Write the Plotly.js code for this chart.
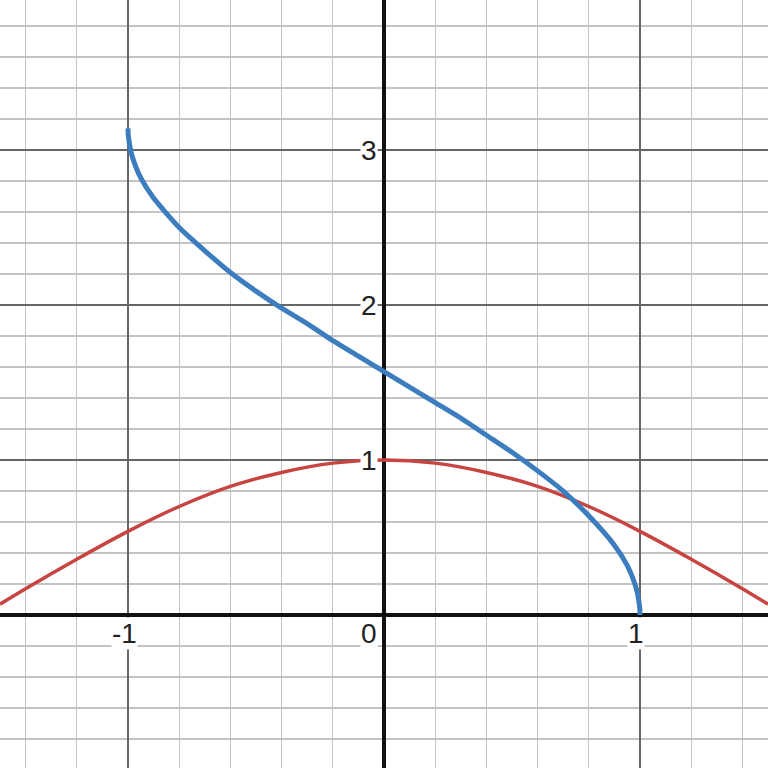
<!DOCTYPE html>
<html>
<head>
<meta charset="utf-8">
<script src="https://cdn.plot.ly/plotly-3.0.1.min.js"></script>
<style>
  html, body { margin: 0; padding: 0; background: #fff; }
  #plot { width: 768px; height: 768px; }
</style>
</head>
<body>
<div id="plot"></div>
<script>
    // blue curve, values (arccos-like)
    const blueX = [-1, -0.999, -0.99, -0.98, -0.95, -0.9, -0.8, -0.7, -0.6, -0.5, -0.4, -0.3, -0.2, -0.1,
        0, 0.1, 0.2, 0.3, 0.4, 0.5, 0.6, 0.7, 0.8, 0.9, 0.95, 0.98, 0.99, 0.999, 1]
    const blueY = [3.14, 3.097, 3.0, 2.94, 2.82, 2.69, 2.50, 2.35, 2.21, 2.09, 1.98, 1.88, 1.77, 1.67,
        1.57, 1.47, 1.37, 1.27, 1.16, 1.05, 0.93, 0.80, 0.64, 0.45, 0.32, 0.20, 0.14, 0.045, 0]

    // red curve, values (cos-like)
    const redX = [-1.5, -1.4, -1.2, -1.0, -0.8, -0.6, -0.4, -0.2, 0, 0.2, 0.4, 0.6, 0.8, 1.0, 1.2, 1.4, 1.5]
    const redY = [0.07, 0.17, 0.36, 0.54, 0.70, 0.83, 0.92, 0.98, 1.0, 0.98, 0.92, 0.83, 0.70, 0.54, 0.36, 0.17, 0.07]

    // tick labels drawn next to the axes
    const xTickVals = [-1, 0, 1]
    const xTickText = ['-1', '0', '1']
    const yTickVals = [1, 2, 3]
    const yTickText = ['1', '2', '3']

    const blue = '#3c7dbf'
    const red = '#c74440'

    const data = [
        {x: redX, y: redY, type: 'scatter', mode: 'lines',
            line: {color: red, width: 3.5, shape: 'spline'}},
        {x: blueX, y: blueY, type: 'scatter', mode: 'lines',
            line: {color: blue, width: 5, shape: 'spline', smoothing: 0.6}}
    ]

    const labelFont = {family: 'Liberation Sans', size: 28, color: '#222'}
    let annotations = []
    xTickVals.forEach((v, i) => {
        annotations.push({
            x: v, y: 0, xref: 'x', yref: 'y', text: xTickText[i], showarrow: false,
            xanchor: v === 0 ? 'right' : 'center', yanchor: 'top',
            xshift: v === 0 ? -6 : -4, yshift: -2, borderpad: 0,
            font: labelFont, bgcolor: '#fff'
        })
    })
    yTickVals.forEach((v, i) => {
        annotations.push({
            x: 0, y: v, xref: 'x', yref: 'y', text: yTickText[i], showarrow: false,
            xanchor: 'right', yanchor: 'middle', xshift: -6, borderpad: 0,
            font: labelFont, bgcolor: '#fff'
        })
    })

    const axisCommon = {
        showticklabels: false,
        ticks: '',
        showgrid: true,
        gridcolor: '#666666',
        gridwidth: 1.3,
        dtick: 1,
        tick0: 0,
        zeroline: true,
        zerolinecolor: '#111',
        zerolinewidth: 3.5,
        showline: false,
        fixedrange: true,
        minor: {dtick: 0.2, tick0: 0, showgrid: true, gridcolor: '#c4c4c4', gridwidth: 1.3}
    }

    const layout = {
        width: 768,
        height: 768,
        hovermode: false,
        showlegend: false,
        margin: {t: 0, b: 0, l: 0, r: 0},
        paper_bgcolor: '#fff',
        plot_bgcolor: '#fff',
        xaxis: Object.assign({}, axisCommon, {range: [-1.5, 1.5]}),
        yaxis: Object.assign({}, axisCommon, {range: [-0.987, 3.968]}),
        annotations: annotations
    }

    Plotly.newPlot('plot', data, layout, {displayModeBar: false, staticPlot: true})
</script>
</body>
</html>
